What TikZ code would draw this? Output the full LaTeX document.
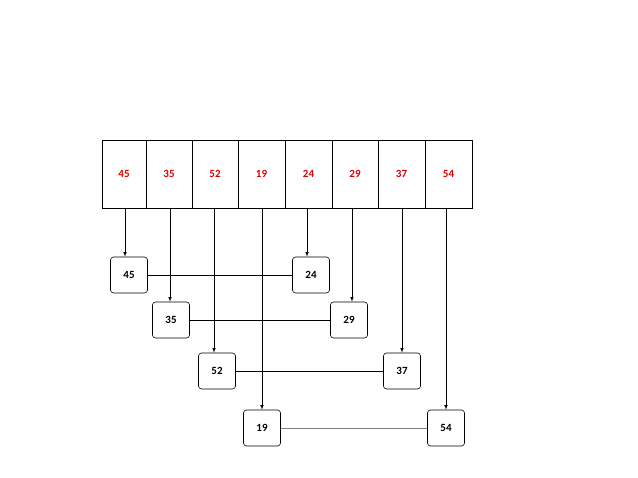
\documentclass[tikz,border=0pt]{standalone}
\usepackage{fontspec}
\setmainfont{Carlito}
\begin{document}
\begin{tikzpicture}[x=1pt,y=-1pt,
  cell/.style={draw,semithick,minimum height=68pt,text=red!85!black,font=\fontsize{11}{13}\selectfont\bfseries,inner sep=0pt},
  bx/.style={draw,rounded corners=3pt,semithick,minimum width=37pt,minimum height=36pt,inner sep=0pt,font=\fontsize{11}{13}\selectfont\bfseries},
  ar/.style={-latex,semithick},
  ln/.style={thick}]
\useasboundingbox (0,0) rectangle (638,478);
\foreach \n/\a/\b/\v in {c1/102/146/45,c2/146/192/35,c3/192/238/52,c4/238/285/19,c5/285/332/24,c6/332/378/29,c7/378/425/37,c8/425/472/54}{
  \pgfmathsetmacro{\w}{\b-\a}
  \node[cell,minimum width=\w pt] (\n) at ({(\a+\b)/2},174) {\v};}
\node[bx] (b45) at (129,275) {45};
\node[bx] (b24) at (311,275) {24};
\node[bx] (b35) at (171,320) {35};
\node[bx] (b29) at (349,320) {29};
\node[bx] (b52) at (217,371) {52};
\node[bx] (b37) at (402,371) {37};
\node[bx] (b19) at (262,428) {19};
\node[bx] (b54) at (446,428) {54};
\draw[ar] (125,208) -- (b45.north -| 125,0);
\draw[ar] (170,208) -- (b35.north -| 170,0);
\draw[ar] (214,208) -- (b52.north -| 214,0);
\draw[ar] (262,208) -- (b19.north);
\draw[ar] (307,208) -- (b24.north -| 307,0);
\draw[ar] (352,208) -- (b29.north -| 352,0);
\draw[ar] (402,208) -- (b37.north);
\draw[ar] (446,208) -- (b54.north);
\draw[ln] (b45.east) -- (b24.west);
\draw[ln] (b35.east) -- (b29.west);
\draw[ln] (b52.east) -- (b37.west);
\draw[double=white,double distance=1pt,gray] (b19.east) -- (b54.west);
\end{tikzpicture}
\end{document}
